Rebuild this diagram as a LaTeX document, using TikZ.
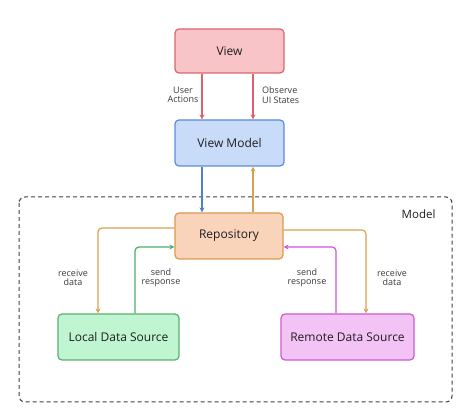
\documentclass[tikz,border=0pt]{standalone}
\usepackage{fontspec}
\setmainfont{Open Sans}
\usetikzlibrary{arrows.meta}
\definecolor{viewfill}{HTML}{F8C4C8}
\definecolor{viewdraw}{HTML}{D9666F}
\definecolor{vmfill}{HTML}{C8DBF8}
\definecolor{vmdraw}{HTML}{5B8BD9}
\definecolor{repofill}{HTML}{F9D4BA}
\definecolor{repodraw}{HTML}{DA9A50}
\definecolor{locfill}{HTML}{BFF5D0}
\definecolor{locdraw}{HTML}{5CAF72}
\definecolor{remfill}{HTML}{F3C3F6}
\definecolor{remdraw}{HTML}{C95AD2}
\definecolor{arred}{HTML}{D9646C}
\definecolor{arblue}{HTML}{4F7FCF}
\definecolor{arorange}{HTML}{D9A050}
\definecolor{argreen}{HTML}{4CAF6A}
\definecolor{armag}{HTML}{CC55D8}
\definecolor{txt}{HTML}{1E1E1E}
\definecolor{lbl}{HTML}{3A3A3A}
\begin{document}
\begin{tikzpicture}[x=1pt,y=-1pt,
  box/.style={draw, line width=1.2pt, rounded corners=4pt, text=txt, font=\fontsize{12}{14}\selectfont, inner sep=0pt},
  conn/.style={line width=1.2pt, rounded corners=4pt, -{Stealth[length=5pt,width=5pt]}},
  lab/.style={text=lbl, font=\fontsize{9}{9.5}\selectfont, align=center, inner sep=0pt}
]
\useasboundingbox (0,0) rectangle (474,419);
% Model container
\draw[line width=1pt, color=black!75, rounded corners=6pt, dash pattern=on 4pt off 3pt] (19,197) rectangle (452,402);
\node[anchor=east, text=txt, font=\fontsize{11.5}{13}\selectfont] (modellbl) at (439,214) {Model};
% boxes
\node[box, fill=viewfill, draw=viewdraw, minimum width=109pt, minimum height=44pt] (view) at (229.5,51) {View};
\node[box, fill=vmfill, draw=vmdraw, minimum width=109pt, minimum height=46pt] (vm) at (229.5,143) {View Model};
\node[box, fill=repofill, draw=repodraw, minimum width=108pt, minimum height=46pt] (repo) at (229,236) {Repository};
\node[box, fill=locfill, draw=locdraw, minimum width=121pt, minimum height=46pt] (loc) at (118.5,337) {Local Data Source};
\node[box, fill=remfill, draw=remdraw, minimum width=133pt, minimum height=46pt] (rem) at (347.5,337) {Remote Data Source};
% coordinates
\coordinate (c1) at (202,0);
\coordinate (c2) at (253,0);
\coordinate (lo) at (98,228);
\coordinate (lg) at (135,247);
\coordinate (ro) at (366,230);
\coordinate (rm) at (336,247);
% View -> VM
\draw[conn, arred] (view.south -| c1) -- (vm.north -| c1);
\draw[conn, arred] (view.south -| c2) -- (vm.north -| c2);
\node[lab] (ua) at (183,95) {User\\Actions};
\node[lab, align=left, anchor=west] (ous) at (262,95) {Observe\\UI States};
% VM <-> Repo
\draw[conn, arblue] (vm.south -| c1) -- (repo.north -| c1);
\draw[conn, arorange] (repo.north -| c2) -- (vm.south -| c2);
% Repo -> Local
\draw[conn, arorange] (repo.west |- lo) -- (lo) -- (loc.north -| lo);
\draw[conn, argreen] (loc.north -| lg) -- (lg) -- (repo.west |- lg);
\node[lab] (rd1) at (73,277.5) {receive\\data};
\node[lab] (sr1) at (161,277.5) {send\\response};
% Repo -> Remote
\draw[conn, arorange] (repo.east |- ro) -- (ro) -- (rem.north -| ro);
\draw[conn, armag] (rem.north -| rm) -- (rm) -- (repo.east |- rm);
\node[lab] (sr2) at (307,277.5) {send\\response};
\node[lab] (rd2) at (392,277.5) {receive\\data};
\end{tikzpicture}
\end{document}
